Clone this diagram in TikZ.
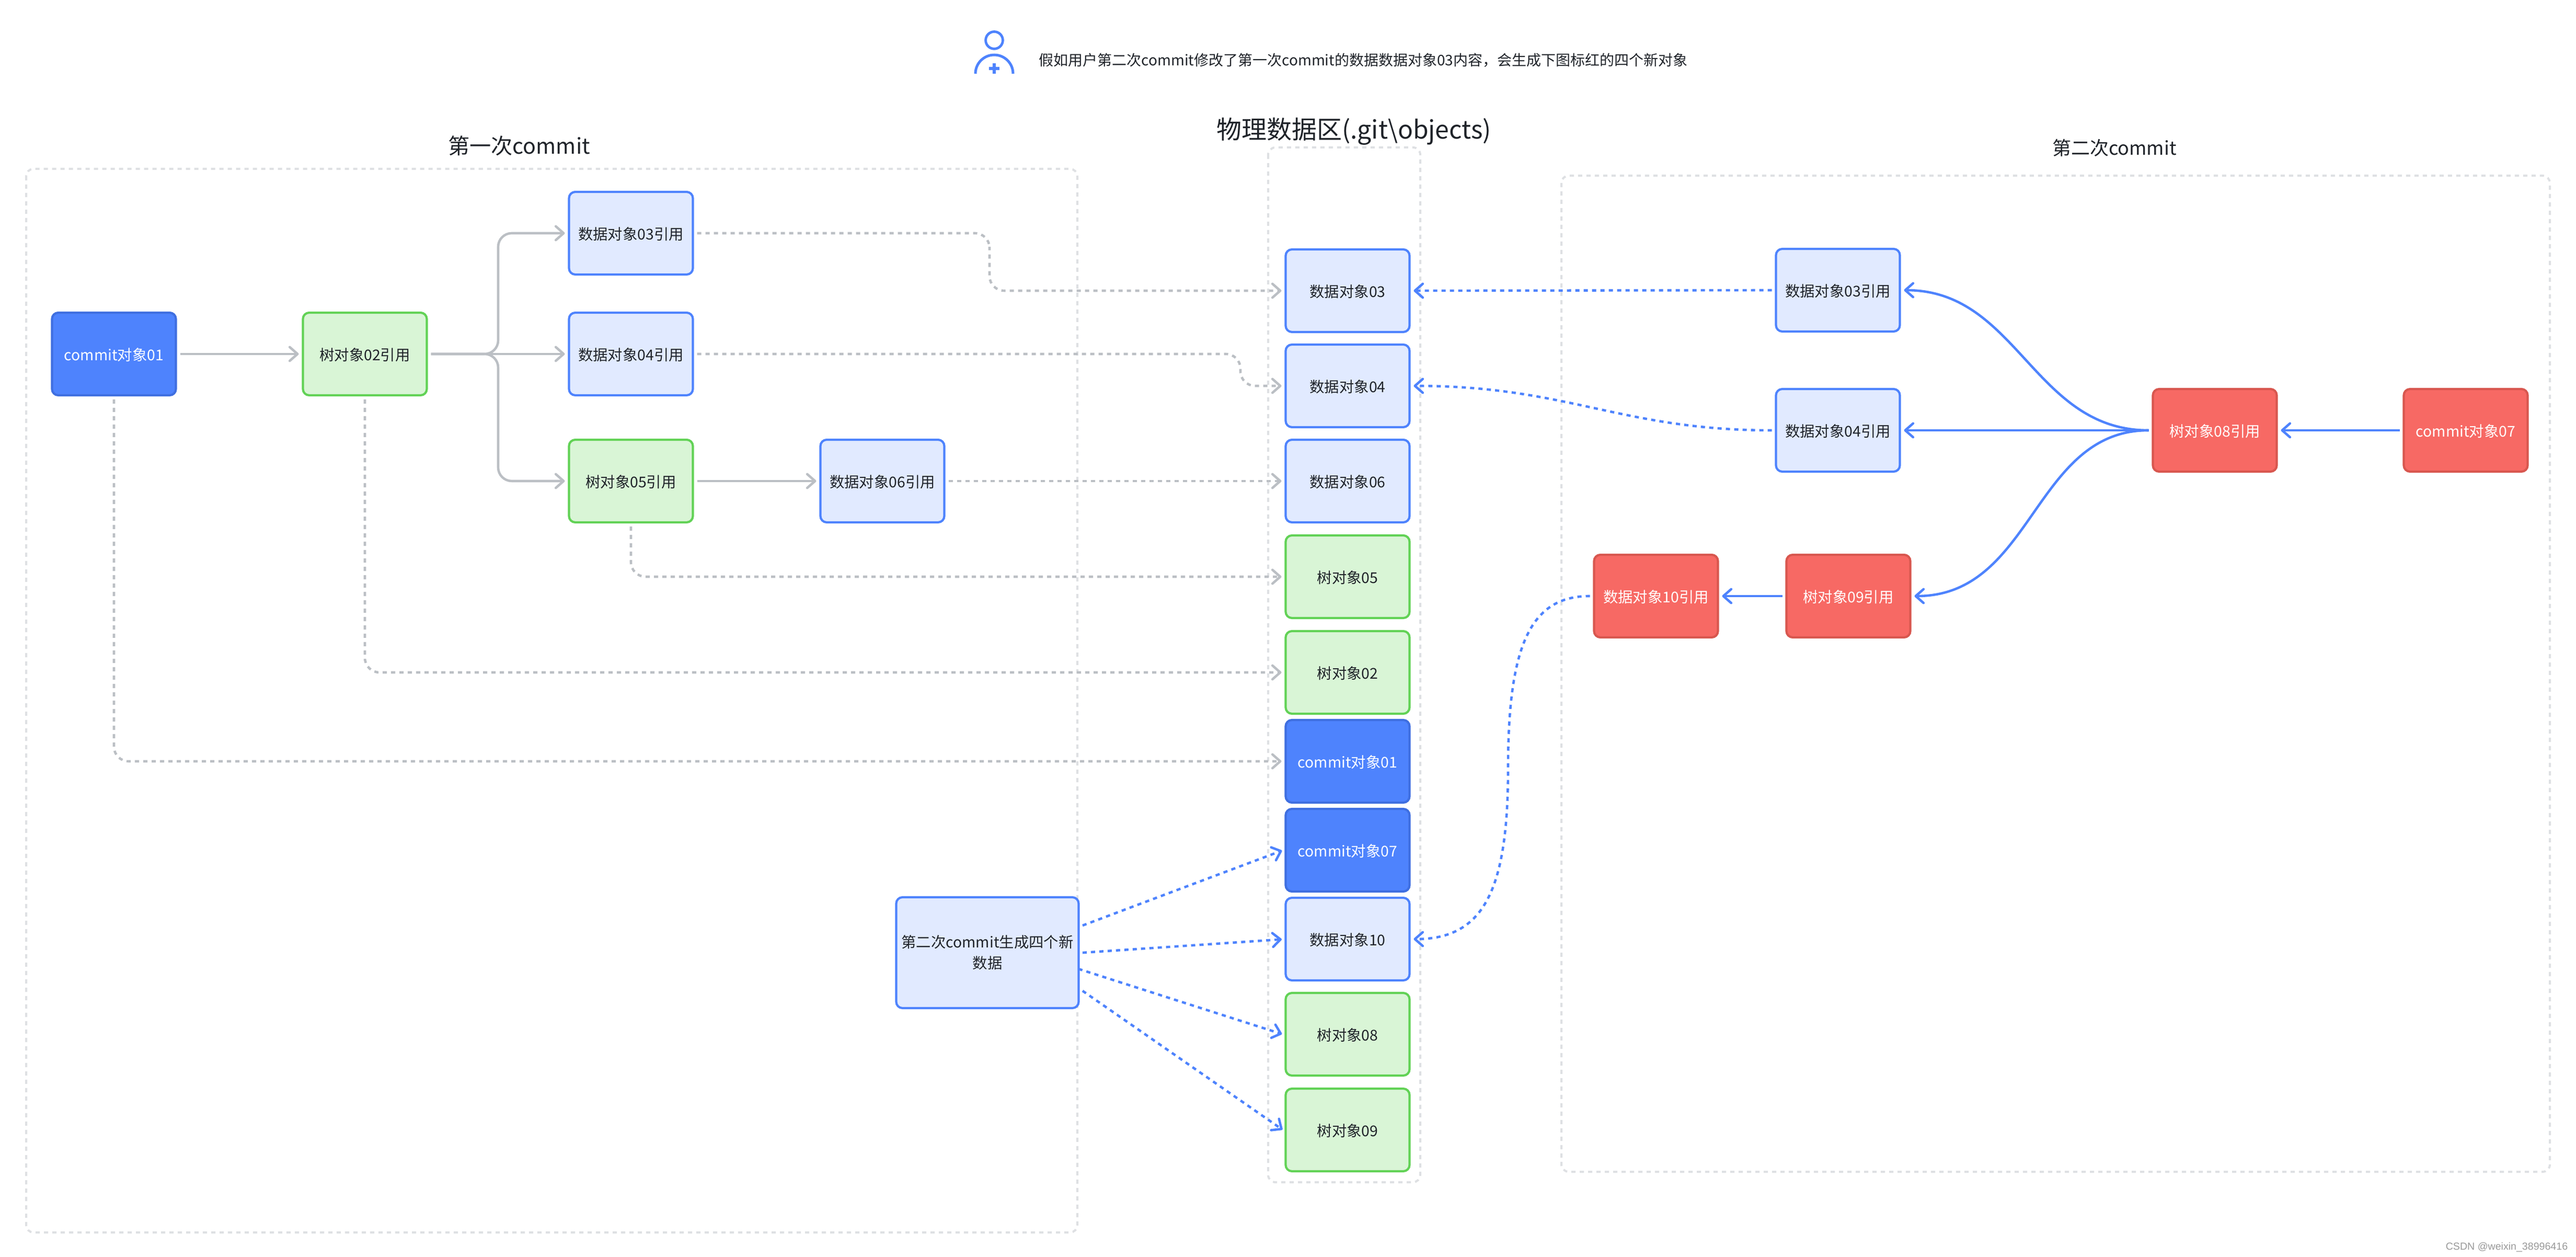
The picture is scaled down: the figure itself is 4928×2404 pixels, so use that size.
\documentclass[tikz,border=0pt]{standalone}
\usepackage{fontspec}
\setmainfont{Noto Sans CJK SC}
\newfontfamily\wmfont{Liberation Sans}
\usetikzlibrary{arrows.meta}
\definecolor{lkblue}{HTML}{4E83FD}
\definecolor{lkbluedark}{HTML}{3F6FE0}
\definecolor{lkbluefill}{HTML}{E1EAFF}
\definecolor{lkgreen}{HTML}{62D256}
\definecolor{lkgreenfill}{HTML}{D9F5D6}
\definecolor{lkred}{HTML}{F76964}
\definecolor{lkreddark}{HTML}{D8574F}
\definecolor{lkgrey}{HTML}{BBBFC4}
\definecolor{lkframe}{HTML}{DEE0E3}
\definecolor{lkink}{HTML}{1F2329}
\tikzset{
  x=0.25pt,y=-0.25pt,
  obj/.style={draw,rounded corners=3pt,minimum width=59.25pt,minimum height=39.5pt,
    inner sep=0pt,outer sep=0pt,line width=1.05pt,align=center,text=lkink,
    text height=7.1pt,text depth=0.85pt,
    font=\fontsize{7.1}{10}\selectfont},
  dbox/.style={obj,draw=lkblue,fill=lkbluefill},
  tbox/.style={obj,draw=lkgreen,fill=lkgreenfill},
  cbox/.style={obj,draw=lkbluedark,fill=lkblue,text=white},
  rbox/.style={obj,draw=lkreddark,fill=lkred,text=white},
  frame/.style={draw=lkframe,line width=1pt,dash pattern=on 2pt off 2pt,rounded corners=3.5pt},
  tiptip/.style={-{Straight Barb[length=3.75pt,width=6.6pt,round]}},
  conn/.style={tiptip,line width=1.15pt,line cap=butt,shorten <=2pt,shorten >=2pt},
  gsolid/.style={conn,draw=lkgrey,rounded corners=6.5pt},
  gdash/.style={conn,draw=lkgrey,dash pattern=on 2pt off 2pt,rounded corners=7pt},
  bsolid/.style={conn,draw=lkblue},
  bdash/.style={conn,draw=lkblue,dash pattern=on 2pt off 2pt},
  bfree/.style={bdash,shorten <=0pt},
  title/.style={inner sep=0pt,text=lkink},
}
\begin{document}
\begin{tikzpicture}
\useasboundingbox (0,0) rectangle (4928,2404);
\fill[white] (0,0) rectangle (4928,2404);
% containers
\draw[frame] (50,323) rectangle (2061,2357);
\draw[frame] (2426,282) rectangle (2717,2261);
\draw[frame] (2987,336) rectangle (4878,2241);
% titles
\node[title,font=\fontsize{10.3}{13}\selectfont] (t1) at (993,279) {第一次commit};
\node[title,font=\fontsize{12}{14}\selectfont] (t2) at (2590,251) {物理数据区(.git\textbackslash objects)};
\node[title,font=\fontsize{9}{12}\selectfont] (t3) at (4045,283) {第二次commit};
\node[title,font=\fontsize{7}{9}\selectfont] (top) at (2608,115) {假如用户第二次commit修改了第一次commit的数据数据对象03内容，会生成下图标红的四个新对象};
\node[inner sep=0pt,text=black!40,font=\wmfont\fontsize{4.9}{6}\selectfont,anchor=east] (wm) at (4913,2385) {CSDN @weixin\_38996416};
% icon
\draw[lkblue,line width=1.2pt] (1902,77) circle [radius=4.1pt];
\draw[lkblue,line width=1.25pt] (1866,141) arc [start angle=180,end angle=0,x radius=9pt,y radius=9pt];
\draw[lkblue,line width=1.5pt] (1902,121) -- (1902,141) (1892,131) -- (1912,131);
% first commit
\node[cbox] (c1r) at (218,677) {commit对象01};
\node[tbox] (t2r) at (698,677) {树对象02引用};
\node[dbox] (d3r) at (1207,446) {数据对象03引用};
\node[dbox] (d4r) at (1207,677) {数据对象04引用};
\node[tbox] (t5r) at (1207,920) {树对象05引用};
\node[dbox] (d6r) at (1688,920) {数据对象06引用};
% physical area
\node[dbox] (d3) at (2578,556) {数据对象03};
\node[dbox] (d4) at (2578,738) {数据对象04};
\node[dbox] (d6) at (2578,920) {数据对象06};
\node[tbox] (t5) at (2578,1103) {树对象05};
\node[tbox] (t2o) at (2578,1286) {树对象02};
\node[cbox] (c1) at (2578,1456) {commit对象01};
\node[cbox] (c7) at (2578,1626) {commit对象07};
\node[dbox] (d10) at (2578,1796) {数据对象10};
\node[tbox] (t8) at (2578,1978) {树对象08};
\node[tbox] (t9) at (2578,2161) {树对象09};
% second commit
\node[dbox] (d3s) at (3516,555) {数据对象03引用};
\node[dbox] (d4s) at (3516,823) {数据对象04引用};
\node[rbox] (t8r) at (4237,823) {树对象08引用};
\node[rbox] (c7r) at (4717,823) {commit对象07};
\node[rbox] (t9r) at (3536,1140) {树对象09引用};
\node[rbox] (d10r) at (3168,1140) {数据对象10引用};
% note box
\node[dbox,minimum width=87.25pt,minimum height=53pt,text height=,text depth=] (note) at (1889,1822) {第二次commit生成四个新\\数据};
% routing helpers
\coordinate (jx) at (953,677);
\coordinate (v3) at (1893,500);
\coordinate (v4a) at (2373,677);
\coordinate (v4b) at (2373,738);
\coordinate (n7) at (2071,1770);
\coordinate (n10) at (2071,1822);
\coordinate (n8) at (2063,1853);
\coordinate (n9) at (2071,1895);
\coordinate (e7) at (2460,1624);
\coordinate (e10) at (2460,1796);
\coordinate (e8) at (2460,1980);
\coordinate (e9) at (2460,2165);
\coordinate (m10) at (2885,1468);
% grey solid
\draw[gsolid] (c1r.east) -- (t2r.west);
\draw[gsolid] (t2r.east) -- (d4r.west);
\draw[gsolid] (t2r.east) -- (jx) |- (d3r.west);
\draw[gsolid] (t2r.east) -- (jx) |- (t5r.west);
\draw[gsolid] (t5r.east) -- (d6r.west);
% grey dashed
\draw[gdash] (d3r.east) -| (v3) |- (d3.west);
\draw[gdash] (d4r.east) -- (v4a) -- (v4b) -- (d4.west);
\draw[gdash] (d6r.east) -- (d6.west);
\draw[gdash] (t5r.south) |- (t5.west);
\draw[gdash] (t2r.south) |- (t2o.west);
\draw[gdash] (c1r.south) |- (c1.west);
% blue solid
\draw[bsolid] (c7r.west) -- (t8r.east);
\draw[bsolid] (t8r.west) -- (d4s.east);
\draw[bsolid] (t8r.west) .. controls (3890,823) and (3860,555) .. (d3s.east);
\draw[bsolid] (t8r.west) .. controls (3890,823) and (3890,1140) .. (t9r.east);
\draw[bsolid] (t9r.west) -- (d10r.east);
% blue dashed
\draw[bdash] (d3s.west) -- (d3.east);
\draw[bdash] (d4s.west) .. controls (3100,823) and (3000,738) .. (d4.east);
\draw[bdash] (d10r.west) .. controls (2930,1140) and (2885,1230) .. (m10) .. controls (2885,1700) and (2840,1796) .. (d10.east);
\draw[bfree] (n7) -- (e7);
\draw[bfree] (n10) -- (e10);
\draw[bfree] (n8) -- (e8);
\draw[bfree] (n9) -- (e9);
\end{tikzpicture}
\end{document}
